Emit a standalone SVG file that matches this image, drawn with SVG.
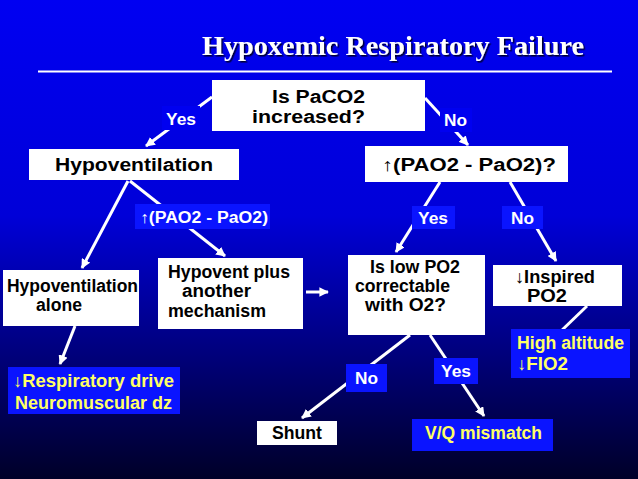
<svg xmlns="http://www.w3.org/2000/svg" width="638" height="479" viewBox="0 0 638 479">
<defs>
<linearGradient id="bg" x1="0" y1="0" x2="0" y2="1">
<stop offset="0" stop-color="#0000f2"/><stop offset="0.45" stop-color="#0000d8"/><stop offset="1" stop-color="#000028"/>
</linearGradient>
<marker id="ah" viewBox="0 0 10 10" refX="9" refY="5" markerWidth="3.2" markerHeight="3.2" orient="auto"><path d="M0,0 L10,5 L0,10 z" fill="#fff"/></marker>
<filter id="sh"><feDropShadow dx="1.5" dy="1.5" stdDeviation="0.6" flood-color="#000" flood-opacity="0.8"/></filter>
</defs>
<style>
.w{fill:#fff}
.lb{fill:#0a14ff}
text{font-family:"Liberation Sans",Arial,sans-serif;font-weight:bold}
.t{font-size:18px;fill:#000}
.tl{font-size:16px;fill:#fff}
.ty{font-size:17.5px;fill:#ffff66}
.c line{stroke:#fff;stroke-width:3;fill:none}
</style>
<rect width="638" height="479" fill="url(#bg)"/>
<text x="202" y="55" textLength="382" lengthAdjust="spacingAndGlyphs" font-family="Liberation Serif,serif" font-size="27" fill="#fff" filter="url(#sh)" style="font-family:'Liberation Serif',serif">Hypoxemic Respiratory Failure</text>
<line x1="38" y1="71.5" x2="612" y2="71.5" stroke="#fff" stroke-width="2"/>
<g class="c">
<line x1="212" y1="97" x2="146" y2="146" marker-end="url(#ah)"/>
<line x1="425" y1="98" x2="468" y2="145" marker-end="url(#ah)"/>
<line x1="128" y1="181" x2="82" y2="268" marker-end="url(#ah)"/>
<line x1="130" y1="181" x2="225" y2="256" marker-end="url(#ah)"/>
<line x1="440" y1="182" x2="396" y2="252" marker-end="url(#ah)"/>
<line x1="510" y1="182" x2="556" y2="261" marker-end="url(#ah)"/>
<line x1="410" y1="335" x2="302" y2="418" marker-end="url(#ah)"/>
<line x1="430" y1="335" x2="484" y2="416" marker-end="url(#ah)"/>
<line x1="75" y1="326" x2="60" y2="364" marker-end="url(#ah)"/>
<line x1="587" y1="306" x2="560" y2="332"/>
<line x1="306" y1="292" x2="328" y2="292" stroke-width="2" marker-end="url(#ah)"/>
</g>
<g id="paco2"><rect class="w" x="212" y="80" width="213" height="51"/><text class="t" x="272" y="103" textLength="93" lengthAdjust="spacingAndGlyphs" font-size="20">Is PaCO2</text><text class="t" x="252" y="123" textLength="113" lengthAdjust="spacingAndGlyphs" font-size="20">increased?</text></g>
<g id="yes1"><rect fill="#0000f0" x="162" y="106" width="38" height="24"/><text class="tl" x="166" y="125" textLength="30" lengthAdjust="spacingAndGlyphs">Yes</text></g>
<g id="no1"><rect fill="#0000f0" x="440" y="108" width="32" height="24"/><text class="tl" x="444" y="126" textLength="23" lengthAdjust="spacingAndGlyphs">No</text></g>
<g id="hypo"><rect class="w" x="29" y="149" width="210" height="31"/><text class="t" x="55" y="171" textLength="158" lengthAdjust="spacingAndGlyphs" font-size="20">Hypoventilation</text></g>
<g id="aa"><rect class="w" x="365" y="146" width="203" height="36"/><text class="t" x="382" y="171" textLength="174" lengthAdjust="spacingAndGlyphs" font-size="20">↑(PAO2 - PaO2)?</text></g>
<g id="lab1"><rect class="lb" x="135" y="204" width="135" height="25"/><text class="tl" x="140" y="223" textLength="128" lengthAdjust="spacingAndGlyphs" font-size="17">↑(PAO2 - PaO2)</text></g>
<g id="yes2"><rect class="lb" x="412" y="206" width="43" height="23"/><text class="tl" x="418" y="224" textLength="30" lengthAdjust="spacingAndGlyphs">Yes</text></g>
<g id="no2"><rect class="lb" x="502" y="206" width="41" height="23"/><text class="tl" x="511" y="224" textLength="23" lengthAdjust="spacingAndGlyphs">No</text></g>
<g id="alone"><rect class="w" x="3" y="270" width="136" height="56"/><text class="t" x="7" y="292" textLength="131" lengthAdjust="spacingAndGlyphs">Hypoventilation</text><text class="t" x="36" y="311" textLength="46" lengthAdjust="spacingAndGlyphs">alone</text></g>
<g id="plus"><rect class="w" x="158" y="258" width="145" height="71"/><text class="t" x="168" y="278" textLength="122" lengthAdjust="spacingAndGlyphs">Hypovent plus</text><text class="t" x="182" y="297" textLength="69" lengthAdjust="spacingAndGlyphs">another</text><text class="t" x="168" y="317" textLength="98" lengthAdjust="spacingAndGlyphs">mechanism</text></g>
<g id="corr"><rect class="w" x="348" y="255" width="137" height="80"/><text class="t" x="370" y="273" textLength="90" lengthAdjust="spacingAndGlyphs">Is low PO2</text><text class="t" x="355" y="292" textLength="95" lengthAdjust="spacingAndGlyphs">correctable</text><text class="t" x="365" y="311" textLength="81" lengthAdjust="spacingAndGlyphs">with O2?</text></g>
<g id="insp"><rect class="w" x="493" y="265" width="129" height="41"/><text class="t" x="515" y="283" textLength="80" lengthAdjust="spacingAndGlyphs">↓Inspired</text><text class="t" x="527" y="302" textLength="40" lengthAdjust="spacingAndGlyphs">PO2</text></g>
<g id="alt"><rect class="lb" x="511" y="329" width="119" height="49"/><text class="ty" x="517" y="349" textLength="107" lengthAdjust="spacingAndGlyphs">High altitude</text><text class="ty" x="517" y="370" textLength="51" lengthAdjust="spacingAndGlyphs">↓FIO2</text></g>
<g id="resp"><rect class="lb" x="8" y="367" width="172" height="47"/><text class="ty" x="13" y="387" textLength="161" lengthAdjust="spacingAndGlyphs">↓Respiratory drive</text><text class="ty" x="15" y="409" textLength="157" lengthAdjust="spacingAndGlyphs">Neuromuscular dz</text></g>
<g id="no3"><rect class="lb" x="346" y="364" width="41" height="28"/><text class="tl" x="355" y="384" textLength="23" lengthAdjust="spacingAndGlyphs">No</text></g>
<g id="yes3"><rect class="lb" x="434" y="358" width="44" height="26"/><text class="tl" x="441" y="377" textLength="30" lengthAdjust="spacingAndGlyphs">Yes</text></g>
<g id="shunt"><rect class="w" x="257" y="421" width="80" height="24"/><text class="t" x="272" y="439" textLength="50" lengthAdjust="spacingAndGlyphs" font-size="16">Shunt</text></g>
<g id="vq"><rect class="lb" x="412" y="419" width="141" height="32"/><text class="ty" x="425" y="439" textLength="117" lengthAdjust="spacingAndGlyphs" font-size="16">V/Q mismatch</text></g>
</svg>
